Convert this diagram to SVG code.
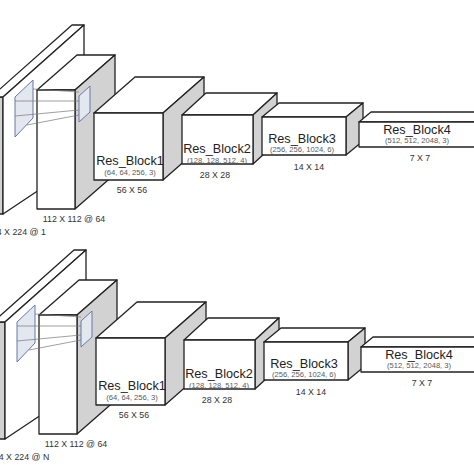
<svg xmlns="http://www.w3.org/2000/svg" width="474" height="474" viewBox="0 0 474 474">
<style>
.w{fill:#fff;stroke:#222;stroke-width:1.3;stroke-linejoin:round}
.g{fill:#d2d2d2;stroke:#222;stroke-width:1.3;stroke-linejoin:round}
.k{fill:#e3e7f0;stroke:#6878a8;stroke-width:1}
.ln{stroke:#777;stroke-width:0.7;fill:none}
text{font-family:"Liberation Sans",Arial,sans-serif;text-anchor:middle}
.t{font-size:12.7px;fill:#222}
.s{font-size:7.6px;fill:#5a5a5a}
.d{font-size:8.8px;fill:#333}
</style>
<rect width="474" height="474" fill="#fff"/>
<g id="diagram-top">
  <g id="input-1">
    <polygon class="g" points="-9,97 3,97 3,214 -9,214"/>
    <polygon class="w" points="-9,97 3,97 84,25 72,25"/>
    <polygon class="w" points="3,97 84,25 84,160 3,214"/>
    <polygon class="k" points="15,97 33,80 33,118 15,137"/>
    <text class="d" x="-13" y="235" style="text-anchor:start">224 X 224 @ 1</text>
  </g>
  <g id="conv-1">
    <polygon class="w" points="37,90 75,90 115,55 77,55"/>
    <polygon class="g" points="75,90 115,55 115,174 75,209"/>
    <rect class="w" x="37" y="90" width="38" height="119"/>
    <polygon class="k" points="79,96 90,86 90,112 79,122"/>
    <text class="d" x="74" y="222">112 X 112 @ 64</text>
  </g>
  <g id="connectors-1">
    <line class="ln" x1="33" y1="89" x2="79" y2="92"/>
    <line class="ln" x1="15" y1="101" x2="79" y2="101"/>
    <line class="ln" x1="15" y1="116" x2="79" y2="110"/>
    <line class="ln" x1="27" y1="125" x2="79" y2="115"/>
  </g>
  <g id="res-block1-1">
    <polygon class="w" points="94,113 163,113 204,77 135,77"/>
    <polygon class="g" points="163,113 204,77 204,144 163,180"/>
    <rect class="w" x="94" y="113" width="69" height="67"/>
    <text class="t" x="130" y="165">Res_Block1</text>
    <text class="s" x="130" y="175">(64, 64, 256, 3)</text>
    <text class="d" x="132" y="193">56 X 56</text>
  </g>
  <g id="res-block2-1">
    <polygon class="w" points="182,115 253,115 277,93 206,93"/>
    <polygon class="g" points="253,115 277,93 277,142 253,164"/>
    <rect class="w" x="182" y="115" width="71" height="49"/>
    <text class="t" x="217" y="153">Res_Block2</text>
    <text class="s" x="217" y="163">(128, 128, 512, 4)</text>
    <text class="d" x="215" y="178">28 X 28</text>
  </g>
  <g id="res-block3-1">
    <polygon class="w" points="262,117 346,117 363,103 279,103"/>
    <polygon class="g" points="346,117 363,103 363,141 346,155"/>
    <rect class="w" x="262" y="117" width="84" height="38"/>
    <text class="t" x="302" y="143">Res_Block3</text>
    <text class="s" x="302" y="152">(256, 256, 1024, 6)</text>
    <text class="d" x="309" y="170">14 X 14</text>
  </g>
  <g id="res-block4-1">
    <polygon class="w" points="359,122 490,122 502,112 371,112"/>
    <rect class="w" x="359" y="122" width="131" height="25"/>
    <text class="t" x="417" y="134">Res_Block4</text>
    <text class="s" x="417" y="143">(512, 512, 2048, 3)</text>
    <text class="d" x="420" y="161">7 X 7</text>
  </g>
</g>
<g id="diagram-bottom" transform="translate(2,225)">
  <g id="input-2">
    <polygon class="g" points="-9,97 3,97 3,214 -9,214"/>
    <polygon class="w" points="-9,97 3,97 84,25 72,25"/>
    <polygon class="w" points="3,97 84,25 84,160 3,214"/>
    <polygon class="k" points="15,97 33,80 33,118 15,137"/>
    <text class="d" x="-13" y="235" style="text-anchor:start">224 X 224 @ N</text>
  </g>
  <g id="conv-2">
    <polygon class="w" points="37,90 75,90 115,55 77,55"/>
    <polygon class="g" points="75,90 115,55 115,174 75,209"/>
    <rect class="w" x="37" y="90" width="38" height="119"/>
    <polygon class="k" points="79,96 90,86 90,112 79,122"/>
    <text class="d" x="74" y="222">112 X 112 @ 64</text>
  </g>
  <g id="connectors-2">
    <line class="ln" x1="33" y1="89" x2="79" y2="92"/>
    <line class="ln" x1="15" y1="101" x2="79" y2="101"/>
    <line class="ln" x1="15" y1="116" x2="79" y2="110"/>
    <line class="ln" x1="27" y1="125" x2="79" y2="115"/>
  </g>
  <g id="res-block1-2">
    <polygon class="w" points="94,113 163,113 204,77 135,77"/>
    <polygon class="g" points="163,113 204,77 204,144 163,180"/>
    <rect class="w" x="94" y="113" width="69" height="67"/>
    <text class="t" x="130" y="165">Res_Block1</text>
    <text class="s" x="130" y="175">(64, 64, 256, 3)</text>
    <text class="d" x="132" y="193">56 X 56</text>
  </g>
  <g id="res-block2-2">
    <polygon class="w" points="182,115 253,115 277,93 206,93"/>
    <polygon class="g" points="253,115 277,93 277,142 253,164"/>
    <rect class="w" x="182" y="115" width="71" height="49"/>
    <text class="t" x="217" y="153">Res_Block2</text>
    <text class="s" x="217" y="163">(128, 128, 512, 4)</text>
    <text class="d" x="215" y="178">28 X 28</text>
  </g>
  <g id="res-block3-2">
    <polygon class="w" points="262,117 346,117 363,103 279,103"/>
    <polygon class="g" points="346,117 363,103 363,141 346,155"/>
    <rect class="w" x="262" y="117" width="84" height="38"/>
    <text class="t" x="302" y="143">Res_Block3</text>
    <text class="s" x="302" y="152">(256, 256, 1024, 6)</text>
    <text class="d" x="309" y="170">14 X 14</text>
  </g>
  <g id="res-block4-2">
    <polygon class="w" points="359,122 490,122 502,112 371,112"/>
    <rect class="w" x="359" y="122" width="131" height="25"/>
    <text class="t" x="417" y="134">Res_Block4</text>
    <text class="s" x="417" y="143">(512, 512, 2048, 3)</text>
    <text class="d" x="420" y="161">7 X 7</text>
  </g>
</g>
</svg>
